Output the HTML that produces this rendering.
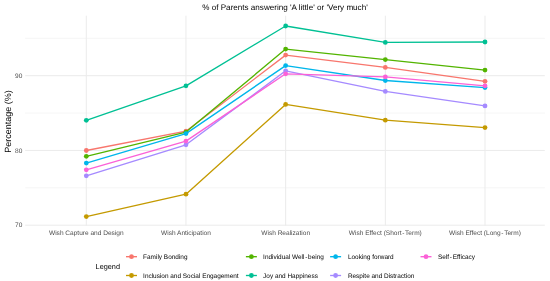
<!DOCTYPE html>
<html lang="en"><head><meta charset="utf-8"><title>% of Parents answering 'A little' or 'Very much'</title>
<style>html,body{margin:0;padding:0;background:#fff}body{width:550px;height:281px;overflow:hidden}svg{display:block}</style></head>
<body>
<svg width="550" height="281" viewBox="0 0 550 281" text-rendering="geometricPrecision" font-family="'Liberation Sans', sans-serif">
<rect width="550" height="281" fill="#fff"/>
<g stroke="#EBEBEB" fill="none">
<line x1="25.2" x2="544.8" y1="187.82" y2="187.82" stroke-width="0.5"/>
<line x1="25.2" x2="544.8" y1="113.07" y2="113.07" stroke-width="0.5"/>
<line x1="25.2" x2="544.8" y1="38.32" y2="38.32" stroke-width="0.5"/>
<line x1="25.2" x2="544.8" y1="225.20" y2="225.20" stroke-width="1.0"/>
<line x1="25.2" x2="544.8" y1="150.45" y2="150.45" stroke-width="1.0"/>
<line x1="25.2" x2="544.8" y1="75.70" y2="75.70" stroke-width="1.0"/>
<line x1="86.3" x2="86.3" y1="15.7" y2="225.5" stroke-width="1.0"/>
<line x1="185.975" x2="185.975" y1="15.7" y2="225.5" stroke-width="1.0"/>
<line x1="285.65" x2="285.65" y1="15.7" y2="225.5" stroke-width="1.0"/>
<line x1="385.325" x2="385.325" y1="15.7" y2="225.5" stroke-width="1.0"/>
<line x1="485.0" x2="485.0" y1="15.7" y2="225.5" stroke-width="1.0"/>
</g>
<g stroke="#F8766D" fill="#F8766D"><polyline points="86.30,150.50 185.97,131.20 285.65,55.10 385.32,67.40 485.00,81.30" fill="none" stroke-width="1.35" stroke-linejoin="round" stroke-linecap="butt"/>
<circle cx="86.30" cy="150.50" r="2.4" stroke="none"/>
<circle cx="185.97" cy="131.20" r="2.4" stroke="none"/>
<circle cx="285.65" cy="55.10" r="2.4" stroke="none"/>
<circle cx="385.32" cy="67.40" r="2.4" stroke="none"/>
<circle cx="485.00" cy="81.30" r="2.4" stroke="none"/>
</g>
<g stroke="#C49A00" fill="#C49A00"><polyline points="86.30,216.60 185.97,194.20 285.65,104.40 385.32,120.20 485.00,127.60" fill="none" stroke-width="1.35" stroke-linejoin="round" stroke-linecap="butt"/>
<circle cx="86.30" cy="216.60" r="2.4" stroke="none"/>
<circle cx="185.97" cy="194.20" r="2.4" stroke="none"/>
<circle cx="285.65" cy="104.40" r="2.4" stroke="none"/>
<circle cx="385.32" cy="120.20" r="2.4" stroke="none"/>
<circle cx="485.00" cy="127.60" r="2.4" stroke="none"/>
</g>
<g stroke="#53B400" fill="#53B400"><polyline points="86.30,156.30 185.97,132.10 285.65,49.10 385.32,59.60 485.00,70.10" fill="none" stroke-width="1.35" stroke-linejoin="round" stroke-linecap="butt"/>
<circle cx="86.30" cy="156.30" r="2.4" stroke="none"/>
<circle cx="185.97" cy="132.10" r="2.4" stroke="none"/>
<circle cx="285.65" cy="49.10" r="2.4" stroke="none"/>
<circle cx="385.32" cy="59.60" r="2.4" stroke="none"/>
<circle cx="485.00" cy="70.10" r="2.4" stroke="none"/>
</g>
<g stroke="#00C094" fill="#00C094"><polyline points="86.30,120.30 185.97,85.80 285.65,26.00 385.32,42.40 485.00,42.00" fill="none" stroke-width="1.35" stroke-linejoin="round" stroke-linecap="butt"/>
<circle cx="86.30" cy="120.30" r="2.4" stroke="none"/>
<circle cx="185.97" cy="85.80" r="2.4" stroke="none"/>
<circle cx="285.65" cy="26.00" r="2.4" stroke="none"/>
<circle cx="385.32" cy="42.40" r="2.4" stroke="none"/>
<circle cx="485.00" cy="42.00" r="2.4" stroke="none"/>
</g>
<g stroke="#00B6EB" fill="#00B6EB"><polyline points="86.30,163.10 185.97,133.60 285.65,65.60 385.32,80.50 485.00,87.60" fill="none" stroke-width="1.35" stroke-linejoin="round" stroke-linecap="butt"/>
<circle cx="86.30" cy="163.10" r="2.4" stroke="none"/>
<circle cx="185.97" cy="133.60" r="2.4" stroke="none"/>
<circle cx="285.65" cy="65.60" r="2.4" stroke="none"/>
<circle cx="385.32" cy="80.50" r="2.4" stroke="none"/>
<circle cx="485.00" cy="87.60" r="2.4" stroke="none"/>
</g>
<g stroke="#A58AFF" fill="#A58AFF"><polyline points="86.30,175.80 185.97,144.80 285.65,70.80 385.32,91.40 485.00,105.90" fill="none" stroke-width="1.35" stroke-linejoin="round" stroke-linecap="butt"/>
<circle cx="86.30" cy="175.80" r="2.4" stroke="none"/>
<circle cx="185.97" cy="144.80" r="2.4" stroke="none"/>
<circle cx="285.65" cy="70.80" r="2.4" stroke="none"/>
<circle cx="385.32" cy="91.40" r="2.4" stroke="none"/>
<circle cx="485.00" cy="105.90" r="2.4" stroke="none"/>
</g>
<g stroke="#FB61D7" fill="#FB61D7"><polyline points="86.30,169.80 185.97,141.10 285.65,73.80 385.32,76.80 485.00,85.80" fill="none" stroke-width="1.35" stroke-linejoin="round" stroke-linecap="butt"/>
<circle cx="86.30" cy="169.80" r="2.4" stroke="none"/>
<circle cx="185.97" cy="141.10" r="2.4" stroke="none"/>
<circle cx="285.65" cy="73.80" r="2.4" stroke="none"/>
<circle cx="385.32" cy="76.80" r="2.4" stroke="none"/>
<circle cx="485.00" cy="85.80" r="2.4" stroke="none"/>
</g>
<text x="285.0" y="9.7" font-size="8.1" text-anchor="middle" fill="#000">% of Parents answering 'A little' or 'Very much'</text>
<text transform="translate(11.0,121.4) rotate(-90)" font-size="9.0" text-anchor="middle" fill="#000">Percentage (%)</text>
<g font-size="6.55" fill="#4D4D4D" text-anchor="end">
<text x="22.3" y="227.35">70</text>
<text x="22.3" y="152.60">80</text>
<text x="22.3" y="77.85">90</text>
</g>
<g font-size="6.55" fill="#4D4D4D" text-anchor="middle">
<text x="86.3" y="235.45">Wish Capture and Design</text>
<text x="185.975" y="235.45">Wish Anticipation</text>
<text x="285.65" y="235.45">Wish Realization</text>
<text x="385.325" y="235.45">Wish Effect (Short<tspan dx="0.7">-</tspan><tspan dx="0.7">Term)</tspan></text>
<text x="485.0" y="235.45">Wish Effect (Long<tspan dx="0.7">-</tspan><tspan dx="0.7">Term)</tspan></text>
</g>
<text x="95.6" y="269" font-size="7.3" fill="#000">Legend</text>
<g font-size="6.45" fill="#000">
<line x1="126.0" x2="137.0" y1="256.7" y2="256.7" stroke="#F8766D" stroke-width="1.35"/><circle cx="131.5" cy="256.7" r="2.4" fill="#F8766D"/>
<text x="143.1" y="259.20">Family Bonding</text>
<line x1="126.0" x2="137.0" y1="275.5" y2="275.5" stroke="#C49A00" stroke-width="1.35"/><circle cx="131.5" cy="275.5" r="2.4" fill="#C49A00"/>
<text x="143.1" y="278.00">Inclusion and Social Engagement</text>
<line x1="245.9" x2="256.9" y1="256.7" y2="256.7" stroke="#53B400" stroke-width="1.35"/><circle cx="251.4" cy="256.7" r="2.4" fill="#53B400"/>
<text x="263.1" y="259.20">Individual Well<tspan dx="0.7">-</tspan><tspan dx="0.7">being</tspan></text>
<line x1="245.9" x2="256.9" y1="275.5" y2="275.5" stroke="#00C094" stroke-width="1.35"/><circle cx="251.4" cy="275.5" r="2.4" fill="#00C094"/>
<text x="263.1" y="278.00">Joy and Happiness</text>
<line x1="330.1" x2="341.1" y1="256.7" y2="256.7" stroke="#00B6EB" stroke-width="1.35"/><circle cx="335.6" cy="256.7" r="2.4" fill="#00B6EB"/>
<text x="347.9" y="259.20">Looking forward</text>
<line x1="330.1" x2="341.1" y1="275.5" y2="275.5" stroke="#A58AFF" stroke-width="1.35"/><circle cx="335.6" cy="275.5" r="2.4" fill="#A58AFF"/>
<text x="347.9" y="278.00">Respite and Distraction</text>
<line x1="420.5" x2="431.5" y1="256.7" y2="256.7" stroke="#FB61D7" stroke-width="1.35"/><circle cx="426.0" cy="256.7" r="2.4" fill="#FB61D7"/>
<text x="438.0" y="259.20">Self<tspan dx="0.7">-</tspan><tspan dx="0.7">Efficacy</tspan></text>
</g>
</svg>
</body></html>
